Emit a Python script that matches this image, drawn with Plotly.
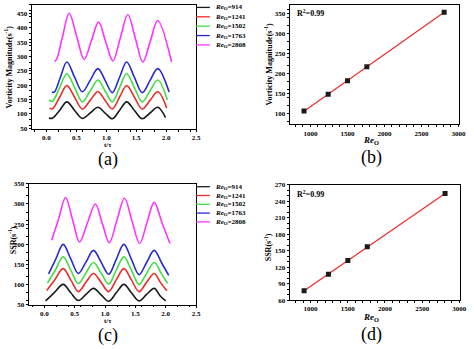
import numpy as np
import plotly.graph_objects as go

W, H = 474, 349
FONT = "Liberation Serif"

# ---------------- data ----------------
RE_LABELS = ["914", "1241", "1502", "1763", "2808"]
RE_VALUES = [914, 1241, 1502, 1763, 2808]
COLORS = ["#1a1a1a", "#ee2a2a", "#44dd44", "#2a2acc", "#ff33ff"]

# (a) vorticity magnitude vs t/tau
A_T = [
    [0.04, 0.10, 0.22, 0.34, 0.47, 0.60, 0.73, 0.86, 0.98, 1.10, 1.22, 1.34, 1.47, 1.60, 1.73, 1.86, 1.99],
    [0.05, 0.10, 0.22, 0.34, 0.47, 0.60, 0.73, 0.86, 0.98, 1.10, 1.22, 1.34, 1.47, 1.60, 1.73, 1.86, 2.01],
    [0.04, 0.10, 0.22, 0.34, 0.47, 0.60, 0.73, 0.86, 0.98, 1.10, 1.22, 1.34, 1.47, 1.60, 1.73, 1.86, 2.02],
    [0.09, 0.13, 0.23, 0.34, 0.47, 0.60, 0.73, 0.86, 0.98, 1.10, 1.22, 1.34, 1.47, 1.60, 1.73, 1.86, 2.05],
    [0.13, 0.16, 0.26, 0.38, 0.505, 0.63, 0.75, 0.87, 0.99, 1.11, 1.235, 1.36, 1.485, 1.61, 1.735, 1.86, 2.09],
]
A_V = [
    [86, 85, 112, 142, 112, 84, 103, 123, 103, 83, 112, 142, 112, 83, 103, 123, 87],
    [120, 118, 158, 199, 158, 117, 147, 177, 147, 117, 158, 199, 158, 117, 147, 177, 120],
    [148, 144, 192, 240, 192, 142, 180, 218, 180, 142, 191, 240, 191, 142, 180, 218, 148],
    [176, 176, 226, 281, 228, 177, 217, 258, 217, 174, 227, 281, 227, 174, 216, 258, 176],
    [284, 287, 362, 451, 370, 290, 355, 420, 352, 285, 366, 447, 364, 281, 353, 426, 281],
]

# (b) mean vorticity magnitude vs Re
B_V = [106, 148, 182, 217, 354]

# (c) SSR vs t/tau
C_T = [
    [0.02, 0.16, 0.31, 0.435, 0.56, 0.685, 0.81, 0.935, 1.06, 1.185, 1.31, 1.435, 1.56, 1.685, 1.81, 1.91, 2.00],
    [0.04, 0.17, 0.31, 0.435, 0.56, 0.685, 0.81, 0.935, 1.06, 1.185, 1.31, 1.435, 1.56, 1.685, 1.81, 1.92, 2.02],
    [0.05, 0.18, 0.31, 0.435, 0.56, 0.685, 0.81, 0.935, 1.06, 1.185, 1.31, 1.435, 1.56, 1.685, 1.81, 1.93, 2.03],
    [0.07, 0.19, 0.31, 0.435, 0.56, 0.685, 0.81, 0.935, 1.06, 1.185, 1.31, 1.435, 1.56, 1.685, 1.81, 1.94, 2.05],
    [0.12, 0.235, 0.35, 0.465, 0.58, 0.71, 0.84, 0.955, 1.07, 1.195, 1.32, 1.445, 1.57, 1.69, 1.81, 1.94, 2.07],
]
C_V = [
    [60, 80, 101, 80, 61, 76, 91, 75, 59, 80, 101, 80, 60, 76, 91, 72, 60],
    [86, 112, 140, 112, 83, 106, 128, 106, 83, 112, 140, 112, 83, 106, 128, 104, 85],
    [104, 136, 169, 136, 103, 129, 155, 129, 102, 136, 169, 136, 101, 128, 155, 127, 103],
    [127, 164, 200, 164, 128, 156, 185, 156, 126, 163, 200, 163, 125, 155, 185, 152, 123],
    [210, 263, 316, 261, 206, 253, 300, 252, 204, 259, 314, 258, 202, 253, 304, 253, 202],
]

# (d) mean SSR vs Re
D_V = [77, 107, 132, 157, 254]

T_TICKS = [0.0, 0.5, 1.0, 1.5, 2.0, 2.5]
RE_TICKS = [1000, 1500, 2000, 2500, 3000]
B_YTICKS = [100, 150, 200, 250, 300, 350]
A_YTICKS = [50, 100, 150, 200, 250, 300, 350, 400, 450]
C_YTICKS = [50, 100, 150, 200, 250, 300, 350]
D_YTICKS = [60, 90, 120, 150, 180, 210, 240, 270]


def px_x(p):
    return p / W


def px_y(p):
    return 1 - p / H


fig = go.Figure()

# (a) and (c) curves
for i in range(5):
    fig.add_trace(go.Scatter(x=A_T[i], y=A_V[i], mode="lines",
                             line=dict(color=COLORS[i], width=1.6, shape="spline", smoothing=1.0),
                             xaxis="x", yaxis="y", showlegend=False))
    fig.add_trace(go.Scatter(x=C_T[i], y=C_V[i], mode="lines",
                             line=dict(color=COLORS[i], width=1.6, shape="spline", smoothing=1.0),
                             xaxis="x3", yaxis="y3", showlegend=False))

# (b) and (d) linear fits + points
for vals, xa, ya in [(B_V, "x2", "y2"), (D_V, "x4", "y4")]:
    k, b = np.polyfit(RE_VALUES, vals, 1)
    xs = [min(RE_VALUES), max(RE_VALUES)]
    fig.add_trace(go.Scatter(x=xs, y=[k * xv + b for xv in xs], mode="lines",
                             line=dict(color="#ee2a2a", width=1.2),
                             xaxis=xa, yaxis=ya, showlegend=False))
    fig.add_trace(go.Scatter(x=RE_VALUES, y=vals, mode="markers",
                             marker=dict(symbol="square", size=5, color="#1a1a1a"),
                             xaxis=xa, yaxis=ya, showlegend=False))

tickfont = dict(family=FONT, size=7, color="black", weight="bold")
axis_common = dict(showline=True, mirror=True, linecolor="black", linewidth=1,
                   ticks="outside", ticklen=2, tickwidth=1, tickcolor="black",
                   showgrid=False, zeroline=False, tickfont=tickfont,
                   minor=dict(ticks="outside", ticklen=1.5, tickcolor="black"))

layout = dict(
    width=W, height=H, margin=dict(l=0, r=0, t=0, b=0),
    paper_bgcolor="white", plot_bgcolor="white", showlegend=False,
    xaxis=dict(domain=[px_x(32), px_x(199)], range=[-0.25, 2.5], tickvals=T_TICKS,
               ticktext=[f"{v:.1f}" for v in T_TICKS], anchor="y", **axis_common),
    yaxis=dict(domain=[px_y(128), px_y(1)], range=[47, 480], tickvals=A_YTICKS, anchor="x", **axis_common),
    xaxis2=dict(domain=[px_x(294), px_x(466)], range=[720, 3010], tickvals=RE_TICKS, anchor="y2", **axis_common),
    yaxis2=dict(domain=[px_y(123), px_y(1)], range=[73, 372], tickvals=B_YTICKS, anchor="x2", **axis_common),
    xaxis3=dict(domain=[px_x(29), px_x(199)], range=[-0.26, 2.5], tickvals=T_TICKS,
                ticktext=[f"{v:.1f}" for v in T_TICKS], anchor="y3", **axis_common),
    yaxis3=dict(domain=[px_y(308), px_y(184)], range=[50, 350], tickvals=C_YTICKS, anchor="x3", **axis_common),
    xaxis4=dict(domain=[px_x(294), px_x(467)], range=[720, 3010], tickvals=RE_TICKS, anchor="y4", **axis_common),
    yaxis4=dict(domain=[px_y(303), px_y(185)], range=[60, 270], tickvals=D_YTICKS, anchor="x4", **axis_common),
)
fig.update_layout(**layout)

annotations = []
shapes = []


def text(x, y, s, size=8, angle=0, xanchor="center", bold=True, color="black", family=FONT):
    annotations.append(dict(x=px_x(x), y=px_y(y), xref="paper", yref="paper", text=(f"<b>{s}</b>" if bold else s),
                            showarrow=False, textangle=angle, xanchor=xanchor, yanchor="middle",
                            font=dict(family=family, size=size, color=color)))


# legends for (a) and (c)
for legend_top, spacing in [(3.5, 9.6), (187, 9.0)]:
    for i, lab in enumerate(RE_LABELS):
        yy = legend_top + i * spacing
        shapes.append(dict(type="line", xref="paper", yref="paper",
                           x0=px_x(199), x1=px_x(213), y0=px_y(yy), y1=px_y(yy),
                           line=dict(color=COLORS[i], width=1.3)))
        text(216, yy, f"<i>Re</i><sub>O</sub>={lab}", size=7, xanchor="left")

# axis titles
text(8, 64, "Vorticity Magnitude(s<sup>-1</sup>)", size=8, angle=-90)
text(272, 61, "Vorticity Magnitude(s<sup>-1</sup>)", size=8, angle=-90)
text(13, 242, "SSR(s<sup>-1</sup>)", size=8, angle=-90)
text(272, 249, "SSR(s<sup>-1</sup>)", size=8, angle=-90)
text(110, 144.5, "t/τ", size=7)
text(110, 324, "t/τ", size=7)
text(377, 140, "<i>Re</i><sub>O</sub>", size=9)
text(377, 321, "<i>Re</i><sub>O</sub>", size=9)

# R^2 labels
text(299, 9.5, "R<sup>2</sup>=0.99", size=8, xanchor="left")
text(299, 194, "R<sup>2</sup>=0.99", size=8, xanchor="left")

# panel labels
text(110, 159.5, "(a)", size=18, bold=False)
text(377, 157, "(b)", size=18, bold=False)
text(110, 339.5, "(c)", size=18, bold=False)
text(377, 338.5, "(d)", size=18, bold=False)

fig.update_layout(annotations=annotations, shapes=shapes)
fig.write_html("out.html")
